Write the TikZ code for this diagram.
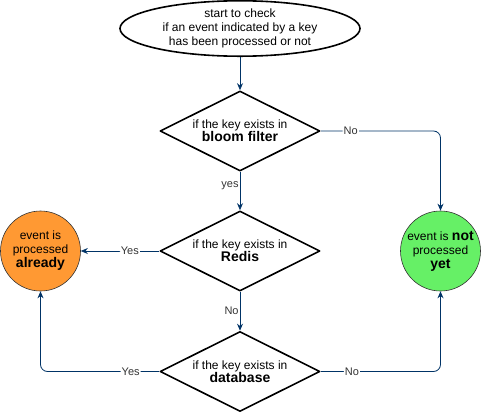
\documentclass[tikz,border=0pt]{standalone}
\usepackage{fontspec}
\setmainfont{Liberation Sans}
\usetikzlibrary{shapes.geometric,arrows.meta}
\definecolor{linkblue}{HTML}{003366}
\definecolor{doneorange}{HTML}{FF9933}
\definecolor{todogreen}{HTML}{66F066}
\newcommand{\txt}{\fontsize{12}{14}\selectfont}
\newcommand{\keyword}[1]{{\fontsize{14}{16}\selectfont\bfseries #1}}
\begin{document}
\begin{tikzpicture}[x=1pt, y=-1pt, line join=round, >={Stealth[length=7pt,width=6pt]},
    startbox/.style={ellipse, draw, line width=1.6pt, minimum width=240pt, minimum height=52pt, inner sep=0pt, align=center, font=\txt},
    checkbox/.style={diamond, aspect=2, draw, line width=1.6pt, minimum width=160pt, minimum height=80pt, inner sep=0pt, align=center, font=\txt},
    endbox/.style={circle, draw=black!80, line width=0.6pt, minimum size=80pt, inner sep=0pt, align=center, font=\txt},
    link/.style={draw=linkblue, line width=0.8pt, rounded corners=7pt},
    tag/.style={fill=white, inner sep=1pt, font=\fontsize{11}{13}\selectfont, text=black!80}]
  \useasboundingbox (0,0) rectangle (481,412);

  % nodes
  \node[startbox] (start) at (240,28.5) {start to check\\if an event indicated by a key\\has been processed or not};
  \node[checkbox] (bloom) at (240,131) {if the key exists in\\[-1pt]\keyword{bloom filter}};
  \node[checkbox] (redis) at (240,251) {if the key exists in\\[-1pt]\keyword{Redis}};
  \node[checkbox] (db) at (240,371.5) {if the key exists in\\[-1pt]\keyword{database}};
  \node[endbox, fill=doneorange] (done) at (40.5,251) {event is\\processed\\\keyword{already}};
  \node[endbox, fill=todogreen] (notyet) at (440.5,251) {event is \keyword{not}\\processed\\\keyword{yet}};

  % connectors
  \draw[link, ->] (start) -- (bloom);
  \draw[link, ->] (bloom.east) -| node[tag, pos=0.125] {No} (notyet.north);
  \draw[link, ->] (bloom.south) -- node[tag, pos=0.35, anchor=east, fill=none] {yes} (redis.north);
  \draw[link, ->] (redis.west) -- node[tag, pos=0.375] {Yes} (done.east);
  \draw[link, ->] (redis.south) -- node[tag, anchor=east, fill=none] {No} (db.north);
  \draw[link, ->] (db.west) -| node[tag, pos=0.12] {Yes} (done.south);
  \draw[link, ->] (db.east) -| node[tag, pos=0.13] {No} (notyet.south);
\end{tikzpicture}
\end{document}
